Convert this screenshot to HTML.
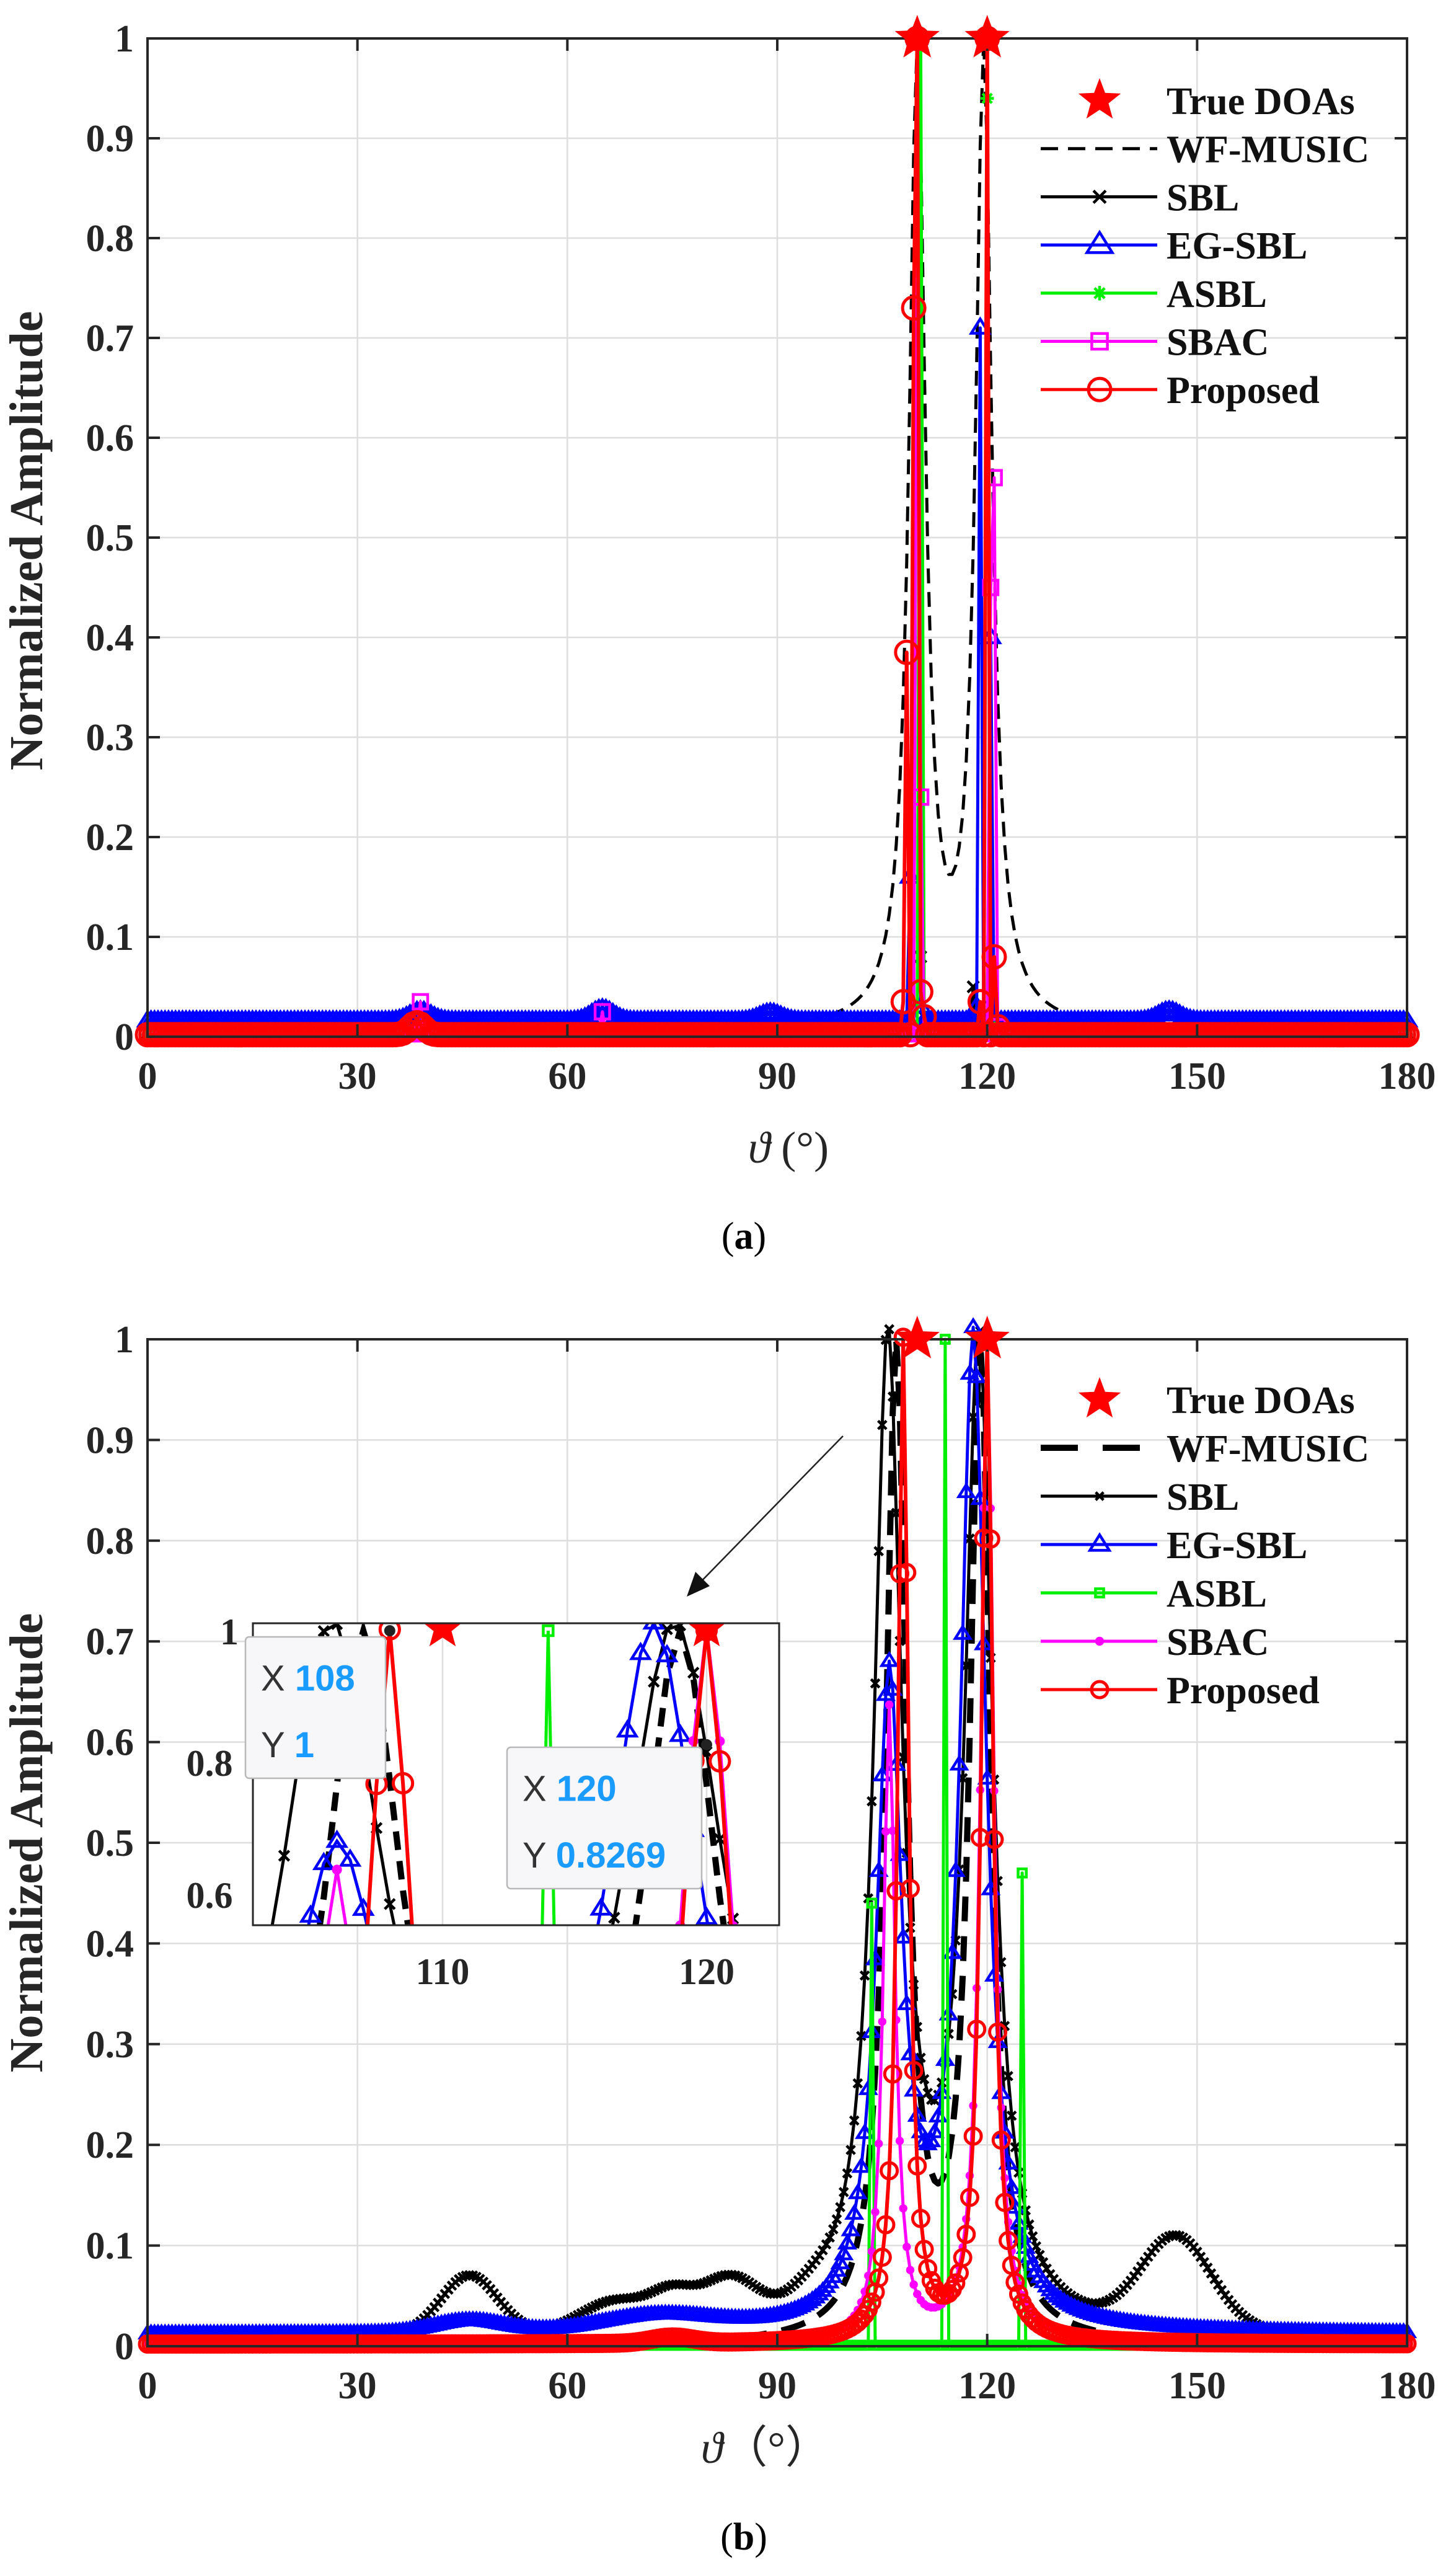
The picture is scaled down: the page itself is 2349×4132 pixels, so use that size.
<!DOCTYPE html>
<html><head><meta charset="utf-8"><style>
html,body{margin:0;padding:0;background:#fff;}
svg{display:block;}
text{font-family:"Liberation Serif",serif;}
</style></head><body>
<svg id="s" xmlns="http://www.w3.org/2000/svg" width="2349" height="4132" viewBox="0 0 2349 4132">
<rect width="2349" height="4132" fill="#fff"/>
</svg>
<script>
var S=document.getElementById('s');var NS='http://www.w3.org/2000/svg';
function el(t,a,p){var e=document.createElementNS(NS,t);for(var k in a)e.setAttribute(k,a[k]);(p||S).appendChild(e);return e;}
function tx(x,y,s,a,p){var e=el('text',Object.assign({x:x,y:y},a),p);e.textContent=s;return e;}
function lor(x,c,w){return 1/(1+Math.pow((x-c)/w,2));}
function g(x,c,w){return Math.exp(-Math.pow((x-c)/w,2)/2);}
var L=238,R=2270;
function grid(){var a=[];for(var i=0;i<=360;i++)a.push(i*0.5);return a;}
var X=grid();
function build(fn,ov){var v=X.map(fn);if(ov)for(var k in ov){var i=Math.round(parseFloat(k)*2);v[i]=ov[k];}return v;}
function norm(v){var m=Math.max.apply(null,v);return v.map(function(a){return a/m;});}
function star(cx,cy,r,p){var pts=[];for(var i=0;i<10;i++){var rr=i%2?r*0.42:r;var an=-Math.PI/2+i*Math.PI/5;pts.push((cx+rr*Math.cos(an)).toFixed(1)+','+(cy+rr*Math.sin(an)).toFixed(1));}el('polygon',{points:pts.join(' '),fill:'#ff0000'},p);}
var MSW=4.5;
function marker(type,x,y,sz,col,p){
 if(type=='x'){var d=sz*0.45;el('path',{d:'M'+(x-d)+' '+(y-d)+'L'+(x+d)+' '+(y+d)+'M'+(x-d)+' '+(y+d)+'L'+(x+d)+' '+(y-d),stroke:col,'stroke-width':MSW,fill:'none'},p);}
 else if(type=='tri'){var d=sz*0.6;el('polygon',{points:x+','+(y-d)+' '+(x-d)+','+(y+d*0.6)+' '+(x+d)+','+(y+d*0.6),stroke:col,'stroke-width':MSW,fill:'none'},p);}
 else if(type=='star8'){var d=sz*0.45;el('path',{d:'M'+(x-d)+' '+y+'H'+(x+d)+'M'+x+' '+(y-d)+'V'+(y+d)+'M'+(x-d*.7)+' '+(y-d*.7)+'L'+(x+d*.7)+' '+(y+d*.7)+'M'+(x-d*.7)+' '+(y+d*.7)+'L'+(x+d*.7)+' '+(y-d*.7),stroke:col,'stroke-width':MSW,fill:'none'},p);}
 else if(type=='sq'){var d=sz*0.45;el('rect',{x:x-d,y:y-d,width:2*d,height:2*d,stroke:col,'stroke-width':MSW,fill:'none'},p);}
 else if(type=='fsq'){var d=sz*0.3;el('rect',{x:x-d,y:y-d,width:2*d,height:2*d,stroke:col,'stroke-width':MSW,fill:'none'},p);}
 else if(type=='dot'){el('circle',{cx:x,cy:y,r:sz*0.28,fill:col},p);}
 else if(type=='o'){el('circle',{cx:x,cy:y,r:sz*0.5,stroke:col,'stroke-width':MSW+0.5,fill:'none'},p);}
}
function panel(top,bot,series,clipId){
 var sy=function(v){return bot-v*(bot-top);};var sx=function(x){return L+x/180*(R-L);};
 for(var i=1;i<10;i++){var y=sy(i/10);el('line',{x1:L,x2:R,y1:y,y2:y,stroke:'#dedede','stroke-width':2.5});}
 for(var i=1;i<6;i++){var x=sx(i*30);el('line',{x1:x,x2:x,y1:top,y2:bot,stroke:'#dedede','stroke-width':2.5});}
 var gp=el('g',{'clip-path':'url(#'+clipId+')'});
 var cp=el('clipPath',{id:clipId});el('rect',{x:L-30,y:top-40,width:R-L+60,height:bot-top+80},cp);
 series.forEach(function(s){
  var d='';s.v.forEach(function(v,i){d+=(i?'L':'M')+sx(X[i]).toFixed(1)+' '+sy(v).toFixed(1);});
  var a={d:d,stroke:s.c,'stroke-width':s.w,fill:'none','stroke-linejoin':'round'};if(s.dash)a['stroke-dasharray']=s.dash;
  el('path',a,gp);
  if(s.m)s.v.forEach(function(v,i){marker(s.m,sx(X[i]),sy(v),s.ms,s.c,gp);});
 });
 el('rect',{x:L,y:top,width:R-L,height:bot-top,fill:'none',stroke:'#262626','stroke-width':4});
 for(var i=0;i<=10;i++){var y=sy(i/10);el('line',{x1:L,x2:L+20,y1:y,y2:y,stroke:'#262626','stroke-width':4});el('line',{x1:R,x2:R-20,y1:y,y2:y,stroke:'#262626','stroke-width':4});
  tx(L-22,y+21,i==0?'0':i==10?'1':'0.'+i,{'font-size':62,'font-weight':'bold','text-anchor':'end',fill:'#262626'});}
 for(var i=0;i<=6;i++){var x=sx(i*30);el('line',{x1:x,x2:x,y1:top,y2:top+20,stroke:'#262626','stroke-width':4});el('line',{x1:x,x2:x,y1:bot,y2:bot-20,stroke:'#262626','stroke-width':4});
  tx(x,bot+84,String(i*30),{'font-size':62,'font-weight':'bold','text-anchor':'middle',fill:'#262626'});}
 star(sx(110),sy(1),38);star(sx(120),sy(1),38);
 return {sx:sx,sy:sy};
}
function legend(y0,dy,items){
 items.forEach(function(it,i){var y=y0+i*dy;
  if(it.star){star(1774,y,36);}
  else{var a={x1:1679,x2:1867,y1:y,y2:y,stroke:it.c,'stroke-width':it.lw||5};if(it.dash)a['stroke-dasharray']=it.dash;el('line',a);if(it.m)marker(it.m,1774,y,it.ms,it.c);}
  tx(1882,y+22,it.t,{'font-size':62,'font-weight':'bold',fill:'#111'});});
}
// ---------- panel (a)
var A={};
A.wf=norm(build(function(x){return lor(x,110,1.4)+lor(x,119.5,1.4)+0.006;}));
A.sbl=build(function(x){return 0.004;},{'109':0.02,'110':1,'110.5':0.08,'111':0.02,'118':0.05,'119':0.03,'120':1,'120.5':0.02});
A.eg=build(function(x){return 0.016+0.01*g(x,39,1.5)+0.012*g(x,65,1.5)+0.008*g(x,89,1.5)+0.01*g(x,146,1.5);},{'109':0.16,'110':1,'110.5':0.03,'118.5':0.03,'119':0.71,'120.5':0.40,'121':0.01});
A.as=build(function(x){return 0.002;},{'110.5':1,'111':0.005,'120':0.94,'120.5':0.01});
A.sb=build(function(x){return 0.003;},{'39':0.035,'65':0.025,'110':1,'110.5':0.24,'120.5':0.45,'121':0.56,'121.5':0.01});
A.pr=build(function(x){return 0.002+0.012*g(x,38.5,1);},{'108':0.035,'108.5':0.385,'109.5':0.73,'110':1,'110.5':0.045,'111':0.02,'119':0.035,'120':1,'121':0.08,'121.5':0.01});
panel(62,1672,[
 {v:A.wf,c:'#000',w:5,dash:'24 14'},
 {v:A.sbl,c:'#000',w:5,m:'x',ms:20},
 {v:A.eg,c:'#0000ff',w:5,m:'tri',ms:24},
 {v:A.as,c:'#00ee00',w:5,m:'star8',ms:24},
 {v:A.sb,c:'#ff00ff',w:5,m:'sq',ms:26},
 {v:A.pr,c:'#ff0000',w:6,m:'o',ms:36}
],'ca');
legend(162,77.7,[{star:1,t:'True DOAs'},{c:'#000',dash:'28 16',t:'WF-MUSIC'},{c:'#000',m:'x',ms:22,t:'SBL'},{c:'#0000ff',m:'tri',ms:34,t:'EG-SBL'},{c:'#00ee00',m:'star8',ms:26,t:'ASBL'},{c:'#ff00ff',m:'sq',ms:28,t:'SBAC'},{c:'#ff0000',m:'o',ms:36,t:'Proposed'}]);
tx(68,872,'Normalized Amplitude',{'font-size':76,'font-weight':'bold','text-anchor':'middle',fill:'#262626',transform:'rotate(-90 68 872)'});
var t=tx(1272,1875,'',{'font-size':72,'text-anchor':'middle',fill:'#262626'});t.innerHTML='<tspan font-style="italic">ϑ</tspan> (°)';
var t=tx(1200,2014,'',{'font-size':62,'text-anchor':'middle',fill:'#000'});t.innerHTML='(<tspan font-weight="bold">a</tspan>)';
// ---------- panel (b)
var B={};
B.wf=norm(build(function(x){return lor(x,107,1.8)+lor(x,119,1.8);}));
B.sbl=(function(){var v=build(function(x){return lor(x,105.8,2.4)+lor(x,118.8,2.4);});var m=Math.max.apply(null,v);return v.map(function(a,i){var x=X[i];return a/m+0.01+0.058*g(x,46,4)+0.03*g(x,67,5)+0.028*g(x,75,3)+0.045*g(x,83,4)+0.09*g(x,147,5)+0.015*g(x,95,3);});})();
B.eg=(function(){var v=build(function(x){return 0.65*lor(x,106,2.2)+lor(x,118,2.2);});var m=Math.max.apply(null,v);return v.map(function(a,i){var x=X[i];return a/m+0.012+0.012*g(x,46,5)+0.015*g(x,73,8);});})();
B.as=build(function(x){return 0.001;},{'103.5':0.44,'114':1,'125':0.47});
B.sb=(function(){var v=build(function(x){return 0.63*lor(x,106,1.0)+lor(x,120,1.1);});var m=Math.max.apply(null,v);return v.map(function(a){return a/m+0.003;});})();
B.pr=(function(){var v=build(function(x){return lor(x,108,0.9)+lor(x,120,1.0);});var m=Math.max.apply(null,v);return v.map(function(a,i){return a/m+0.002+0.006*g(X[i],75,3);});})();
var serB=[
 {v:B.wf,c:'#000',w:10,dash:'40 24'},
 {v:B.sbl,c:'#000',w:5,m:'x',ms:15},
 {v:B.eg,c:'#0000ff',w:5,m:'tri',ms:20},
 {v:B.as,c:'#00ee00',w:5,m:'fsq',ms:22},
 {v:B.sb,c:'#ff00ff',w:5,m:'dot',ms:24},
 {v:B.pr,c:'#ff0000',w:6,m:'o',ms:26}];
panel(2160,3784,serB,'cb');
legend(2257,78,[{star:1,t:'True DOAs'},{c:'#000',dash:'60 40',lw:10,t:'WF-MUSIC'},{c:'#000',m:'x',ms:14,t:'SBL'},{c:'#0000ff',m:'tri',ms:26,t:'EG-SBL'},{c:'#00ee00',m:'fsq',ms:22,t:'ASBL'},{c:'#ff00ff',m:'dot',ms:26,t:'SBAC'},{c:'#ff0000',m:'o',ms:26,t:'Proposed'}]);
tx(68,2972,'Normalized Amplitude',{'font-size':76,'font-weight':'bold','text-anchor':'middle',fill:'#262626',transform:'rotate(-90 68 2972)'});
var t=tx(1235,3972,'',{'font-size':72,'text-anchor':'middle',fill:'#262626'});t.innerHTML='<tspan font-style="italic">ϑ</tspan>（°）';
var t=tx(1200,4112,'',{'font-size':62,'text-anchor':'middle',fill:'#000'});t.innerHTML='(<tspan font-weight="bold">b</tspan>)';
// ---------- inset
(function(){
 var IL=408,IR=1257,IT=2618,IB=3105;
 var sx=function(x){return 714+(x-110)*42.6;};var sy=function(v){return 2630+(1-v)*1062;};
 el('rect',{x:IL,y:IT,width:IR-IL,height:IB-IT,fill:'#fff'});
 el('line',{x1:sx(110),x2:sx(110),y1:IT,y2:IB,stroke:'#dedede','stroke-width':2.5});
 el('line',{x1:sx(120),x2:sx(120),y1:IT,y2:IB,stroke:'#dedede','stroke-width':2.5});
 var cp=el('clipPath',{id:'ci'});el('rect',{x:IL,y:IT,width:IR-IL,height:IB-IT},cp);
 var gp=el('g',{'clip-path':'url(#ci)'});
 serB.forEach(function(s){var d='';s.v.forEach(function(v,i){d+=(i?'L':'M')+sx(X[i]).toFixed(1)+' '+sy(v).toFixed(1);});
  var a={d:d,stroke:s.c,'stroke-width':s.w,fill:'none'};if(s.dash)a['stroke-dasharray']='30 18';el('path',a,gp);
  if(s.m)s.v.forEach(function(v,i){if(X[i]>101&&X[i]<124)marker(s.m,sx(X[i]),sy(v),s.ms*1.2,s.c,gp);});});
 star(sx(110),sy(1)-4,36,gp);star(sx(120),sy(1)-4,36,gp);
 el('circle',{cx:sx(108),cy:sy(1),r:9,fill:'#222'});el('circle',{cx:sx(120),cy:sy(0.8269),r:9,fill:'#222'});
 el('rect',{x:IL,y:IT,width:IR-IL,height:IB-IT,fill:'none',stroke:'#262626','stroke-width':3});
 tx(370,2652,'1',{'font-size':60,'font-weight':'bold','text-anchor':'middle',fill:'#262626'});
 tx(338,2864,'0.8',{'font-size':60,'font-weight':'bold','text-anchor':'middle',fill:'#262626'});
 tx(338,3077,'0.6',{'font-size':60,'font-weight':'bold','text-anchor':'middle',fill:'#262626'});
 tx(714,3200,'110',{'font-size':60,'font-weight':'bold','text-anchor':'middle',fill:'#262626'});
 tx(1140,3200,'120',{'font-size':60,'font-weight':'bold','text-anchor':'middle',fill:'#262626'});
 function tip(x,y,w,h,xv,yv){el('rect',{x:x,y:y,width:w,height:h,rx:6,fill:'#f7f7fa',stroke:'#b8b8b8','stroke-width':2.5});
  var t1=tx(x+25,y+h*0.38,'',{'font-size':58,fill:'#333'});t1.innerHTML='X <tspan fill="#1a9bff" font-weight="bold">'+xv+'</tspan>';t1.style.fontFamily='"Liberation Sans",sans-serif';
  var t2=tx(x+25,y+h*0.85,'',{'font-size':58,fill:'#333'});t2.innerHTML='Y <tspan fill="#1a9bff" font-weight="bold">'+yv+'</tspan>';t2.style.fontFamily='"Liberation Sans",sans-serif';}
 tip(396,2640,226,228,'108','1');
 tip(818,2818,314,228,'120','0.8269');
 el('line',{x1:1360,y1:2316,x2:1120,y2:2562,stroke:'#222','stroke-width':2.5});
 el('polygon',{points:'1108,2575 1122,2535 1145,2558',fill:'#111'});
})();
</script>
</body></html>
